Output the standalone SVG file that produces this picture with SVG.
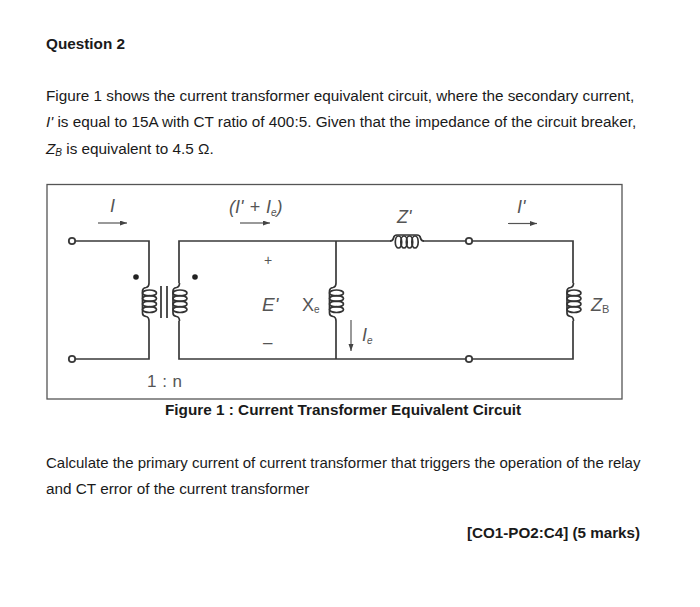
<svg xmlns="http://www.w3.org/2000/svg" width="700" height="607" viewBox="0 0 700 607">
<defs>
<style>
.t{font-family:"Liberation Sans",Arial,sans-serif;font-size:15.3px;fill:#1a1a1a}
.b{font-weight:bold}
.d{font-family:"Liberation Sans",Arial,sans-serif;fill:#555}
.i{font-style:italic}
.w{fill:none;stroke:#3a3a3a;stroke-width:1.7}
.c{fill:none;stroke:#333;stroke-width:1.7}
.a{fill:none;stroke:#555;stroke-width:1.2}
.o{fill:#fff;stroke:#3a3a3a;stroke-width:1.8}
</style>
<g id="vcoil">
<path class="c" d="M0 -8Q0 -4 -3 -3.500Q-6.500 -3 -6.500 0V22Q-6.500 25 -3 25.500Q0 26 0 30"/>
<ellipse class="c" cx="0.500" cy="2" rx="7" ry="3"/>
<ellipse class="c" cx="0.500" cy="7.500" rx="7" ry="3"/>
<ellipse class="c" cx="0.500" cy="13" rx="7" ry="3"/>
<ellipse class="c" cx="0.500" cy="18.500" rx="7" ry="3"/>
</g>
<marker id="ah" markerWidth="8" markerHeight="6" refX="7" refY="2.500" orient="auto" markerUnits="userSpaceOnUse"><path d="M0 0L7 2.500L0 5z" fill="#444"/></marker>
</defs>
<rect width="700" height="607" fill="#fff"/>
<g id="question-text">
<text class="t b" x="46" y="49">Question 2</text>
<text class="t" x="46" y="101">Figure 1 shows the current transformer equivalent circuit, where the secondary current,</text>
<text class="t" x="46" y="127"><tspan class="i">I'</tspan> is equal to 15A with CT ratio of 400:5. Given that the impedance of the circuit breaker,</text>
<text class="t" x="46" y="154"><tspan class="i">Z</tspan><tspan class="i" font-size="10" dy="2">B</tspan><tspan dy="-2"> is equivalent to 4.5 Ω.</tspan></text>
</g>
<rect id="figure-frame" x="47" y="184.500" width="575" height="214.500" fill="#fff" stroke="#555" stroke-width="1.3"/>
<g id="connectors">
<path class="w" d="M75 241H149V283M149 321V359H75"/>
<path class="w" d="M179 283V241H336M179 321V359H336"/>
<path class="w" d="M336 241V283M336 321V359"/>
<path class="w" d="M336 241H391M423 241H469H573V283M573 321V359H336"/>
<path class="c" d="M161 286V318M167 286V318" stroke-width="1.300"/>
<path class="a" marker-end="url(#ah)" d="M98 223H127"/>
<path class="a" marker-end="url(#ah)" d="M240 223H270"/>
<path class="a" marker-end="url(#ah)" d="M508 223.500H537"/>
<path class="a" marker-end="url(#ah)" d="M351 320V351"/>
</g>
<g id="primary-terminal-top"><circle class="o" cx="72" cy="241" r="3.200"/></g>
<g id="primary-terminal-bottom"><circle class="o" cx="72" cy="359" r="3.200"/></g>
<g id="secondary-terminal-top"><circle class="o" cx="469" cy="241" r="3.200"/></g>
<g id="secondary-terminal-bottom"><circle class="o" cx="469" cy="359" r="3.200"/></g>
<g id="primary-coil"><use href="#vcoil" x="149" y="291"/><circle cx="136" cy="277" r="2.800" fill="#222"/></g>
<g id="secondary-coil"><use href="#vcoil" x="179.500" y="291"/><circle cx="195" cy="277" r="2.800" fill="#222"/></g>
<g id="magnetising-coil"><use href="#vcoil" x="336" y="291"/></g>
<g id="burden-coil"><use href="#vcoil" x="573.500" y="291"/></g>
<g id="series-coil">
<path class="c" d="M390 241Q393 241 393.500 238Q394 235 397 235H417Q420 235 420.500 238Q421 241 424 241"/>
<ellipse class="c" cx="398.500" cy="242" rx="3.200" ry="6"/>
<ellipse class="c" cx="404" cy="242" rx="3.200" ry="6"/>
<ellipse class="c" cx="409.500" cy="242" rx="3.200" ry="6"/>
<ellipse class="c" cx="415" cy="242" rx="3.200" ry="6"/>
</g>
<g id="diagram-labels">
<text class="d i" x="110" y="212" font-size="18">I</text>
<text class="d i" x="229" y="213" font-size="18" word-spacing="1">(I' + I<tspan font-size="10" dy="3">e</tspan><tspan dy="-3">)</tspan></text>
<text class="d i" x="397" y="223" font-size="18">Z'</text>
<text class="d i" x="517" y="213" font-size="18">I'</text>
<text class="d" x="264" y="265" font-size="14">+</text>
<text class="d" x="263" y="348" font-size="17">–</text>
<text class="d i" x="262" y="311" font-size="19">E'</text>
<text class="d" x="302" y="311" font-size="18">X<tspan font-size="10" dy="2">e</tspan></text>
<text class="d i" x="362" y="341" font-size="18">I<tspan font-size="10" dy="3">e</tspan></text>
<text class="d i" x="591" y="311" font-size="18">Z<tspan font-size="11" dy="2" font-style="normal">B</tspan></text>
<text class="d" x="147" y="387" font-size="17" word-spacing="1">1 : n</text>
</g>
<g id="caption-and-question">
<text class="t b" x="165" y="415">Figure 1 : Current Transformer Equivalent Circuit</text>
<text class="t" x="46" y="468" font-size="15" style="font-size:15px">Calculate the primary current of current transformer that triggers the operation of the relay</text>
<text class="t" x="46" y="494">and CT error of the current transformer</text>
<text class="t b" x="467" y="538" style="font-size:15.2px">[CO1-PO2:C4] (5 marks)</text>
</g>
</svg>
